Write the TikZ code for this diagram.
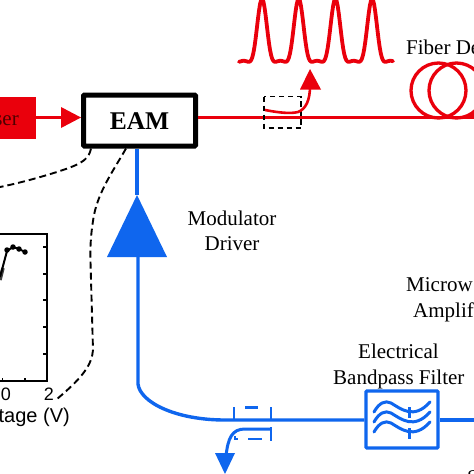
\documentclass[tikz,border=0pt]{standalone}
\usepackage{fontspec}
\setmainfont{Liberation Serif}
\newfontfamily\helv{Liberation Sans}
\definecolor{lred}{HTML}{EA000C}
\definecolor{lblue}{HTML}{0F66EE}
\definecolor{dred}{HTML}{500000}
\pgfmathdeclarefunction{pulseshape}{1}{%
  \pgfmathparse{(1+cos(#1))/2}%
  \pgfmathparse{\pgfmathresult*\pgfmathresult*\pgfmathresult}%
}
\tikzset{
  x=1pt,y=-1pt,
  lab/.style={inner sep=0pt,anchor=base west,text=black,font=\fontsize{21}{25}\selectfont},
  labc/.style={lab,anchor=base},
  axlab/.style={inner sep=0pt,anchor=base,text=black,font=\helv\fontsize{18}{22}\selectfont},
  redline/.style={draw=lred,line width=3pt},
  blueline/.style={draw=lblue,line width=3.4pt},
  blackdash/.style={draw=black,line width=1.9pt,dash pattern=on 7pt off 4pt},
  bluedash/.style={draw=lblue,line width=2.8pt},
  axisline/.style={draw=black,line width=2pt},
  dot/.style={circle,fill=black,inner sep=0pt,minimum size=5.5pt},
}
\begin{document}
\begin{tikzpicture}
\useasboundingbox (0,0) rectangle (474,474);
\clip (0,0) rectangle (474,474);
\fill[white] (0,0) rectangle (474,474);

% laser and EAM
\node[fill=lred,inner sep=0pt,minimum width=36pt,minimum height=42pt] (laser) at (18,118) {};
\node[inner sep=0pt,anchor=base east,text=dred,font=\fontsize{21}{25}\selectfont] (lasertxt) at (19,125) {ser};
\node[draw=black,line width=5pt,rounded corners=1pt,inner sep=0pt,minimum width=112pt,minimum height=51pt] (eam) at (139.5,120.5) {};
\node[inner sep=0pt,anchor=base,font=\bfseries\fontsize{25.5}{30}\selectfont] (eamtxt) at (139.5,129) {EAM};
\draw[draw=lred,line width=2.6pt] (laser.east |- 0,117.5) -- (64,117.5);
\fill[lred] (61,107) -- (81,117.5) -- (61,128) -- cycle;
\coordinate (fiberend) at (474,117);
\draw[redline] (eam.east |- fiberend) -- (fiberend);

% fiber coils
\draw[draw=lred,line width=3.3pt] (438.5,90.5) circle[radius=27.5pt];
\draw[draw=lred,line width=3.3pt] (456.5,90.5) circle[radius=27.5pt];
\fill[lred] (468,117.5) -- (474,112) -- (474,118.5) -- cycle;

% optical tap
\draw[black,line width=1.8pt,dash pattern=on 5.5pt off 3.5pt] (264,96.5) rectangle (301,128);
\draw[draw=lred,line width=2.6pt] (265,110) .. controls (278,112.5) and (290,114) .. (298,112)
   .. controls (306,109) and (310,100) .. (310,86);
\fill[lred] (310,69) -- (321,89.5) -- (300,89.5) -- cycle;

% pulse train
\draw[draw=lred,line width=3.8pt,line cap=round,line join=round]
  plot[domain=239:393,samples=140] (\x,{62-62*pulseshape((\x-262)/36.7*360)-1.2*cos((\x-262)/36.7*720)});

% dashed leader lines
\coordinate (plotA) at (0,187);
\coordinate (plotB) at (57,399);
\draw[blackdash] (eam.south -| 91,0) .. controls (89,158) and (84,163) .. (63,170)
   .. controls (45,176) and (20,183) .. (plotA);
\draw[blackdash] (eam.south -| 126,0) .. controls (115,168) and (99,190) .. (94,215)
   .. controls (91,232) and (90,245) .. (90.5,262) -- (93,350)
   .. controls (92,365) and (82,378) .. (plotB);

% modulator driver
\coordinate (drvtop) at (137,195);
\coordinate (drvbase) at (138,257);
\fill[lblue] (drvtop) -- (167,257) -- (107,257) -- cycle;
\draw[blueline] (eam.south -| drvtop) -- (drvtop);

% filter
\node[draw=lblue,line width=3.4pt,rounded corners=1pt,inner sep=0pt,minimum width=72pt,minimum height=57pt] (filter) at (402,419.5) {};
\coordinate (rfend) at (474,420);
\draw[blueline] (filter.east |- rfend) -- (rfend);
\draw[blueline] (drvbase) -- (138,384) .. controls (140,402) and (175,420) .. (225,420) -- (filter.west |- rfend);
\foreach \dy in {0,10,20}{
  \draw[draw=lblue,line width=3pt,line cap=round]
    (374,{412+\dy}) .. controls (379,{403+\dy}) and (385,{400+\dy}) .. (391,{403+\dy})
    .. controls (401,{409+\dy}) and (414,{420+\dy}) .. (430,{402+\dy});
}
\draw[draw=lblue,line width=3pt] (409,407) -- (409,418);
\draw[draw=lblue,line width=3pt] (409,428) -- (409,439);

% electrical tap
\draw[bluedash] (234,407) -- (234,420);
\draw[bluedash] (271,407) -- (271,420);
\draw[bluedash] (245,407.5) -- (258,407.5);
\draw[bluedash] (248,439) -- (262,439);
\draw[bluedash] (235,436) -- (235,439) -- (238,439);
\draw[bluedash] (271,427) -- (271,441);
\draw[draw=lblue,line width=3pt] (271,429) -- (245,429) .. controls (232,429) and (228,438) .. (226,456);
\fill[lblue] (215,453) -- (235,453) -- (225,474) -- cycle;

% inset plot
\draw[axisline] (0,234) -- (46.5,234) -- (46.5,381) -- (0,381);
\foreach \ty in {247,274,300,327,354}{\draw[black,line width=1.3pt] (46.5,\ty) -- (43,\ty);}
\foreach \tx in {2.5,25}{\draw[black,line width=1.3pt] (\tx,381) -- (\tx,377.5);}
\draw[black!75,line width=3.5pt] (0,280) -- (3,268);
\draw[black,line width=2pt] (0,277) -- (3,266) -- (7,251) -- (13,247) -- (19,249) -- (25,252);
\node[dot] (d1) at (7,250) {};
\node[dot] (d2) at (13,247) {};
\node[dot] (d3) at (19,249) {};
\node[dot] (d4) at (25,252) {};
\node[axlab] (tick0) at (6,400) {0};
\node[axlab] (tick2) at (49,400) {2};
\node[inner sep=0pt,anchor=base east,font=\helv\fontsize{20}{24}\selectfont] (xlabel) at (70,422) {tage (V)};

% labels
\node[labc] (mod1) at (232,225) {Modulator};
\node[labc] (mod2) at (232,250) {Driver};
\node[lab] (fib) at (406,54) {Fiber De};
\node[lab] (mic1) at (406,291) {Microw};
\node[lab] (mic2) at (413,317) {Amplif};
\node[lab] (bp1) at (358,358) {Electrical};
\node[lab] (bp2) at (333,384) {Bandpass Filter};
\node[lab] (sig) at (467,484) {S};
\end{tikzpicture}
\end{document}
